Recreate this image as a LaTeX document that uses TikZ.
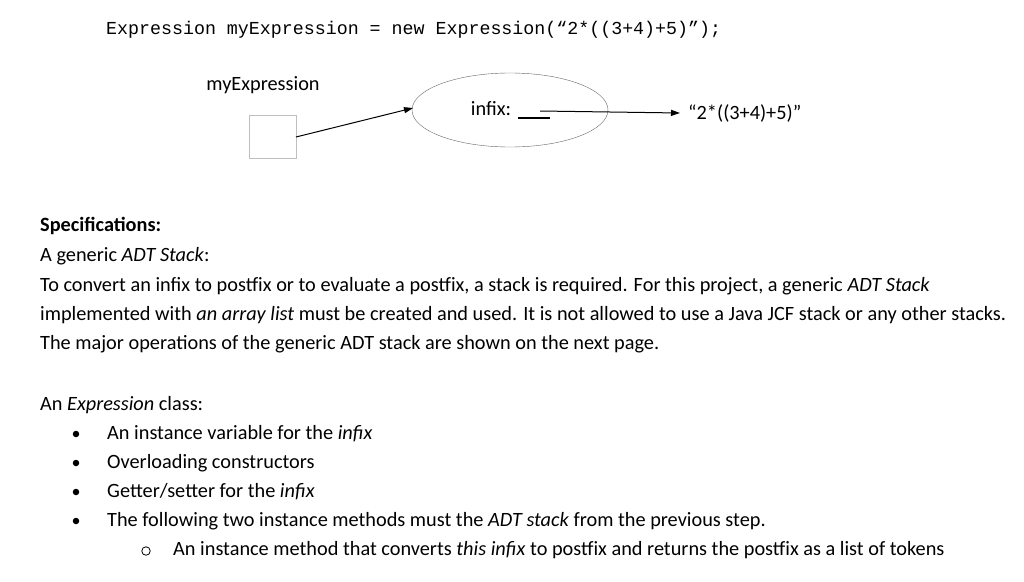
\documentclass[tikz,border=0pt]{standalone}
\usepackage{fontspec}
\setmainfont{Carlito}
\newfontfamily\codefont{Liberation Mono}
\usetikzlibrary{arrows.meta,shapes.geometric}
\tikzset{
 txt/.style={anchor=west,inner sep=0pt,font=\fontsize{20.3}{22}\selectfont},
 lbl/.style={inner sep=0pt,font=\fontsize{20.3}{22}\selectfont},
 arr/.style={-{Triangle[length=9pt,width=6pt]},line width=1pt},
 bul/.style={circle,fill=black,inner sep=0pt,minimum size=6.5pt},
}
\begin{document}
\begin{tikzpicture}[x=1pt,y=-1pt]
\useasboundingbox (0,0) rectangle (1024,581);
\node[anchor=west,inner sep=0pt,font=\codefont\fontsize{18.3}{20}\selectfont] (code) at (106,30) {Expression myExpression = new Expression(“2*((3+4)+5)”);};
\node[lbl] (name) at (263,85) {myExpression};
\node[draw=black!25,minimum width=47pt,minimum height=43pt,inner sep=0pt] (box) at (272.5,136.5) {};
\node[draw=black!60,line width=0.4pt,ellipse,minimum width=196pt,minimum height=74pt,inner sep=0pt] (ell) at (510,110) {};
\node[lbl] (infix) at (491,109) {infix:};
\draw[line width=1.2pt] (518,118) -- (550,118);
\coordinate (s1) at (296,137);
\coordinate (e1) at (413,108);
\draw[arr] (s1) -- (e1);
\coordinate (s2) at (540,111);
\coordinate (e2) at (680,113);
\node[txt] (val) at (688,113) {“2*((3+4)+5)”};
\draw[arr] (s2) -- (e2);
\node[txt] (sp) at (40,226) {\textbf{Specifications:}};
\node[txt] (l1) at (40,256) {A generic \textit{ADT Stack}:};
\node[txt] (l2) at (40,286) {To convert an infix to postfix or to evaluate a postfix, a stack is required. For this project, a generic \textit{ADT Stack}};
\node[txt] (l3) at (40,315) {implemented with \textit{an array list} must be created and used. It is not allowed to use a Java JCF stack or any other stacks.};
\node[txt] (l4) at (40,344) {The major operations of the generic ADT stack are shown on the next page.};
\node[txt] (l5) at (40,405) {An \textit{Expression} class:};
\foreach \y/\t in {434/{An instance variable for the \textit{infix}},463/{Overloading constructors},492/{Getter/setter for the \textit{infix}},521/{The following two instance methods must the \textit{ADT stack} from the previous step.}}{
 \node[bul] at (76,\y) {};
 \node[txt] at (107,\y) {\t};
}
\node[circle,draw,line width=0.8pt,minimum size=8.5pt,inner sep=0pt] (o) at (146,551) {};
\node[txt] (l10) at (173,550) {An instance method that converts \textit{this infix} to postfix and returns the postfix as a list of tokens};
\end{tikzpicture}
\end{document}
